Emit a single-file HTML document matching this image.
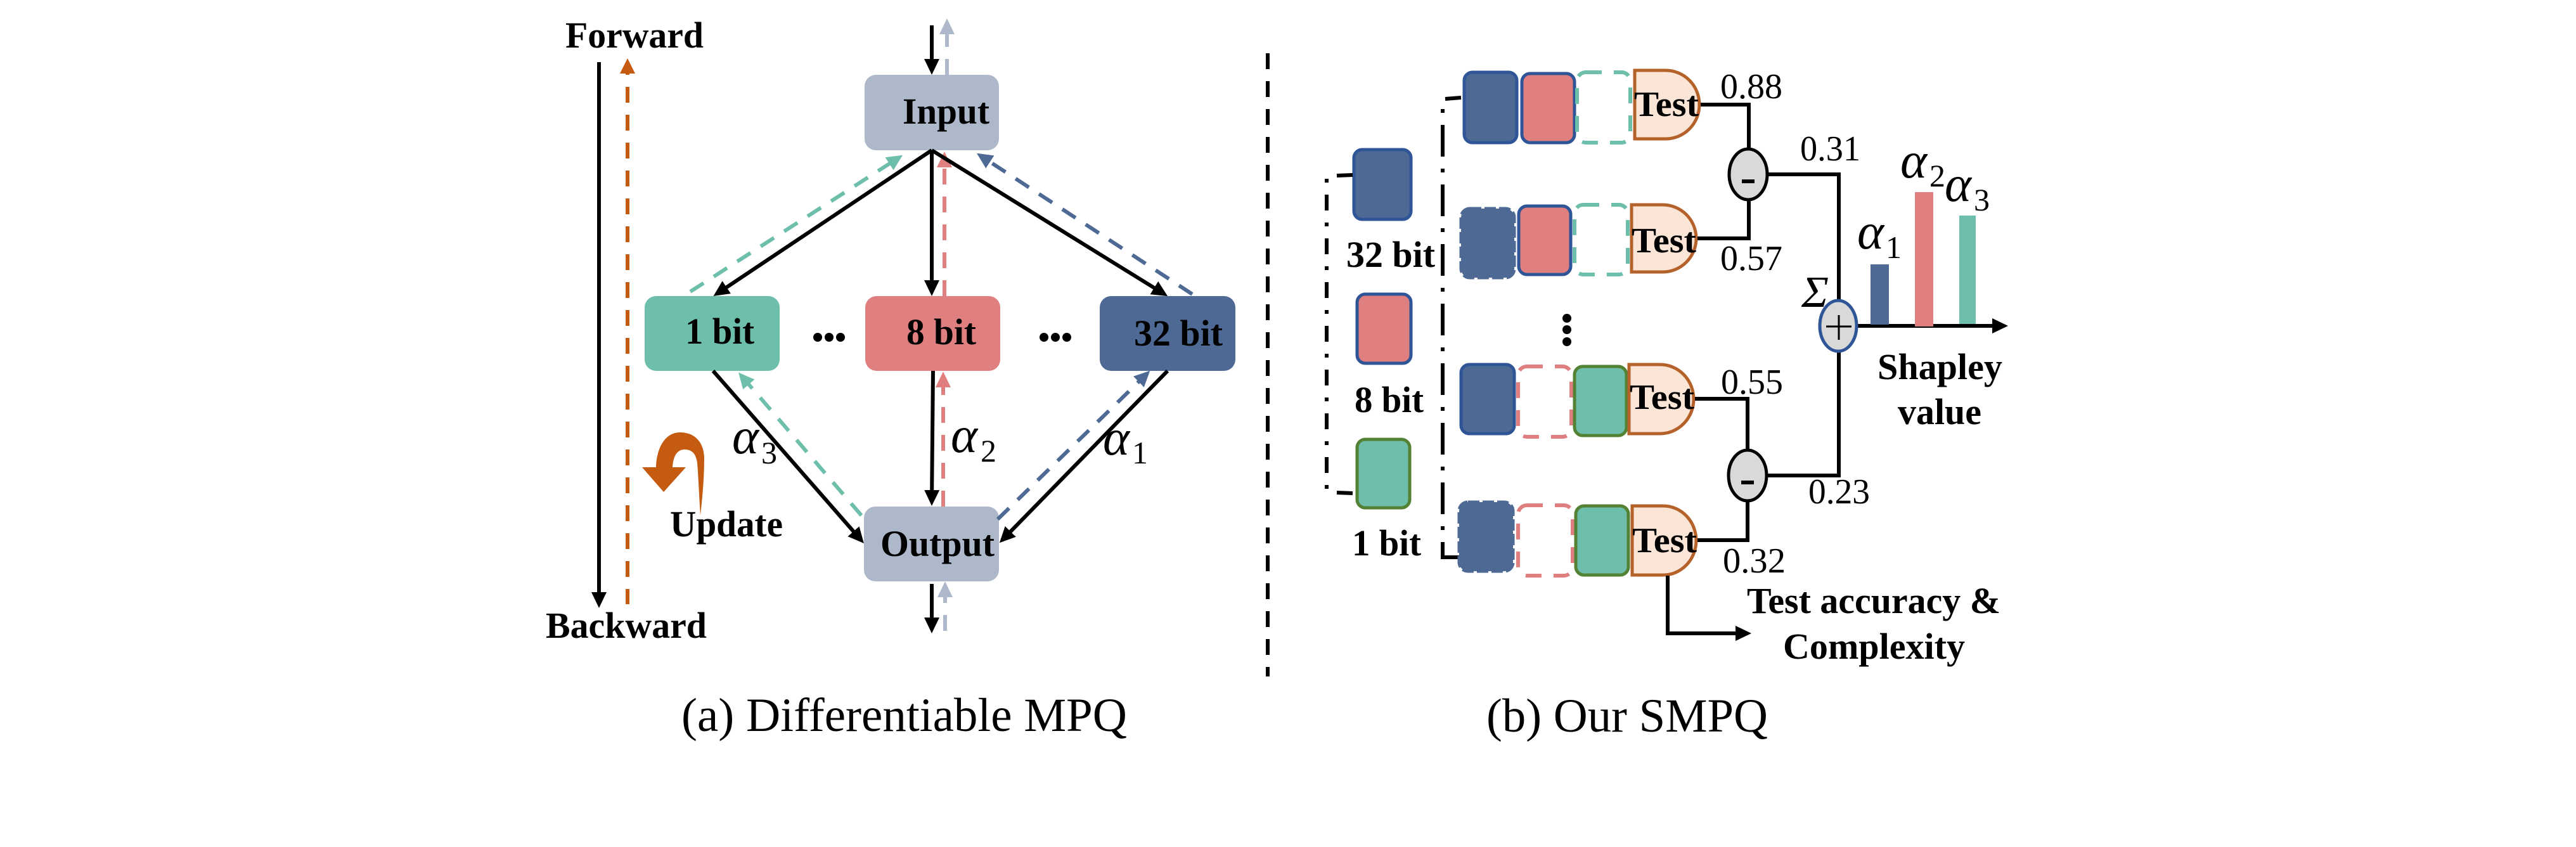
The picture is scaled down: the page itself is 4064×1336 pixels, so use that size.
<!DOCTYPE html>
<html>
<head>
<meta charset="utf-8">
<title>Differentiable MPQ and SMPQ</title>
<style>
html,body{margin:0;padding:0;background:#fff}
svg{display:block}
text{font-family:"Liberation Serif","DejaVu Serif",serif;fill:#000}
.b{font-weight:bold}
.n{font-size:56px}
.a{font-style:italic;font-size:80px}
.s{font-size:50px}
.l{font-size:58px;font-weight:bold}
.w{fill:none;stroke:#000;stroke-width:6}
</style>
</head>
<body>
<svg width="4064" height="1336" viewBox="0 0 4064 1336" xmlns="http://www.w3.org/2000/svg">
<defs>
<marker id="k" markerUnits="userSpaceOnUse" markerWidth="30" markerHeight="30" refX="19" refY="15" orient="auto"><path d="M0 3L25 15L0 27Z" fill="#000"/></marker>
<marker id="g" markerUnits="userSpaceOnUse" markerWidth="30" markerHeight="30" refX="19" refY="15" orient="auto"><path d="M0 3L25 15L0 27Z" fill="#6DBFAB"/></marker>
<marker id="r" markerUnits="userSpaceOnUse" markerWidth="30" markerHeight="30" refX="19" refY="15" orient="auto"><path d="M0 3L25 15L0 27Z" fill="#DF7F80"/></marker>
<marker id="u" markerUnits="userSpaceOnUse" markerWidth="30" markerHeight="30" refX="19" refY="15" orient="auto"><path d="M0 3L25 15L0 27Z" fill="#4E6A94"/></marker>
<marker id="y" markerUnits="userSpaceOnUse" markerWidth="30" markerHeight="30" refX="19" refY="15" orient="auto"><path d="M0 3L25 15L0 27Z" fill="#ADB9CA"/></marker>
</defs>

<!-- (a) boxes -->
<rect x="1364" y="118" width="212" height="119" rx="18" fill="#ADB9CA"/>
<rect x="1017" y="467" width="213" height="118" rx="18" fill="#6DBFAB"/>
<rect x="1365" y="467" width="213" height="118" rx="18" fill="#DF7F80"/>
<rect x="1735" y="467" width="214" height="118" rx="18" fill="#4E6A94"/>
<rect x="1363" y="799" width="213" height="118" rx="18" fill="#ADB9CA"/>

<!-- (a) legend lines -->
<line x1="945" y1="98" x2="945" y2="953" class="w" marker-end="url(#k)"/>
<line x1="990" y1="137" x2="990" y2="953" fill="none" stroke="#C55A11" stroke-width="6" stroke-dasharray="25 19"/>
<path d="M990 92L1002 116H993V118H987V116H978Z" fill="#C55A11"/>

<!-- (a) dashed back paths -->
<g fill="none" stroke-width="6" stroke-dasharray="25 19">
<line x1="1494" y1="118" x2="1494" y2="35" stroke="#ADB9CA" marker-end="url(#y)"/>
<line x1="1089" y1="460" x2="1419" y2="248" stroke="#6DBFAB" marker-end="url(#g)"/>
<line x1="1490" y1="467" x2="1490" y2="245" stroke="#DF7F80" marker-end="url(#r)"/>
<line x1="1881" y1="464" x2="1546" y2="245" stroke="#4E6A94" marker-end="url(#u)"/>
<line x1="1359" y1="813" x2="1169" y2="592" stroke="#6DBFAB" marker-end="url(#g)"/>
<line x1="1488" y1="799" x2="1488" y2="592" stroke="#DF7F80" marker-end="url(#r)"/>
<line x1="1574" y1="819" x2="1810" y2="589" stroke="#4E6A94" marker-end="url(#u)"/>
<line x1="1491" y1="995" x2="1491" y2="923" stroke="#ADB9CA" marker-end="url(#y)"/>
</g>

<!-- (a) solid arrows -->
<line x1="1470" y1="40" x2="1470" y2="112" class="w" marker-end="url(#k)"/>
<line x1="1470" y1="237" x2="1130.5" y2="463.7" class="w" marker-end="url(#k)"/>
<line x1="1470" y1="237" x2="1470" y2="461" class="w" marker-end="url(#k)"/>
<line x1="1470" y1="237" x2="1837" y2="464" class="w" marker-end="url(#k)"/>
<line x1="1125" y1="585" x2="1359" y2="852.5" class="w" marker-end="url(#k)"/>
<line x1="1472" y1="585" x2="1470" y2="792" class="w" marker-end="url(#k)"/>
<line x1="1842" y1="585" x2="1581" y2="852" class="w" marker-end="url(#k)"/>
<line x1="1470" y1="921" x2="1470" y2="993" class="w" marker-end="url(#k)"/>

<!-- Update arrow -->
<path d="M1013 737H1035C1036 705 1050 682 1073 682C1098 682 1111 700 1111 723C1111 755 1108 785 1105 813C1103 785 1102 755 1100 730C1098 716 1092 709 1080 709C1068 709 1062 720 1061 737H1082L1047 776Z" fill="#C55A11"/>

<!-- (a) text -->
<text x="892" y="75" class="l" textLength="218" lengthAdjust="spacingAndGlyphs">Forward</text>
<text x="861" y="1006" class="l" textLength="254" lengthAdjust="spacingAndGlyphs">Backward</text>
<text x="1424" y="195" class="l" textLength="137" lengthAdjust="spacingAndGlyphs">Input</text>
<text x="1081" y="542" class="l" textLength="109" lengthAdjust="spacingAndGlyphs">1 bit</text>
<text x="1430" y="543" class="l" textLength="110" lengthAdjust="spacingAndGlyphs">8 bit</text>
<text x="1789" y="545" class="l" textLength="140" lengthAdjust="spacingAndGlyphs">32 bit</text>
<text x="1389" y="877" class="l" textLength="180" lengthAdjust="spacingAndGlyphs">Output</text>
<text x="1057" y="846" class="l" textLength="178" lengthAdjust="spacingAndGlyphs">Update</text>
<g fill="#000">
<circle cx="1290" cy="532" r="7"/><circle cx="1308" cy="532" r="7"/><circle cx="1326" cy="532" r="7"/>
<circle cx="1647" cy="532" r="7"/><circle cx="1665" cy="532" r="7"/><circle cx="1683" cy="532" r="7"/>
</g>
<text x="1155" y="715" class="a" textLength="42" lengthAdjust="spacingAndGlyphs">α</text><text x="1201" y="731" class="s">3</text>
<text x="1500" y="713" class="a" textLength="42" lengthAdjust="spacingAndGlyphs">α</text><text x="1547" y="728" class="s">2</text>
<text x="1740" y="717" class="a" textLength="42" lengthAdjust="spacingAndGlyphs">α</text><text x="1786" y="731" class="s">1</text>
<text x="1075" y="1153" font-size="75" textLength="703" lengthAdjust="spacingAndGlyphs">(a) Differentiable MPQ</text>

<!-- divider -->
<line x1="2000" y1="84" x2="2000" y2="1067" fill="none" stroke="#000" stroke-width="6" stroke-dasharray="25 19"/>

<!-- (b) left stack -->
<rect x="2136" y="236" width="90" height="110" rx="13" fill="#4E6A94" stroke="#2F5597" stroke-width="5"/>
<rect x="2141" y="464" width="85" height="109" rx="13" fill="#DF7F80" stroke="#2F5597" stroke-width="5"/>
<rect x="2141" y="693" width="83" height="108" rx="13" fill="#6DBFAB" stroke="#548235" stroke-width="5"/>
<text x="2124" y="421" class="l" textLength="140" lengthAdjust="spacingAndGlyphs">32 bit</text>
<text x="2137" y="650" class="l" textLength="109" lengthAdjust="spacingAndGlyphs">8 bit</text>
<text x="2133" y="876" class="l" textLength="109" lengthAdjust="spacingAndGlyphs">1 bit</text>

<!-- brackets -->
<line x1="2093" y1="282" x2="2093" y2="771" fill="none" stroke="#000" stroke-width="6" stroke-dasharray="6 19 25 19"/>
<line x1="2109" y1="277" x2="2134" y2="276" class="w"/>
<line x1="2109" y1="777" x2="2134" y2="778" class="w"/>
<path d="M2276 172V879H2303" fill="none" stroke="#000" stroke-width="6" stroke-dasharray="6 19 50 19"/>
<path d="M2280 156L2305 154" class="w"/>

<!-- row 1 -->
<rect x="2310" y="114" width="83" height="111" rx="13" fill="#4E6A94" stroke="#2F5597" stroke-width="5"/>
<rect x="2401" y="116" width="83" height="109" rx="13" fill="#DF7F80" stroke="#2F5597" stroke-width="5"/>
<rect x="2488" y="114" width="84" height="111" rx="14" fill="#fff" stroke="#6DBFAB" stroke-width="6" stroke-dasharray="25 19"/>
<path d="M2579 111H2628A53 54 0 0 1 2628 219H2579Z" fill="#FBE5D6" stroke="#B5622A" stroke-width="5"/>
<text x="2578" y="183" class="n b" textLength="102" lengthAdjust="spacingAndGlyphs">Test</text>

<!-- row 2 -->
<rect x="2305" y="329" width="84" height="109" rx="14" fill="#4E6A94" stroke="#4E6A94" stroke-width="5" stroke-dasharray="18 5"/>
<rect x="2396" y="325" width="82" height="108" rx="13" fill="#DF7F80" stroke="#2F5597" stroke-width="5"/>
<rect x="2484" y="323" width="84" height="110" rx="14" fill="#fff" stroke="#6DBFAB" stroke-width="6" stroke-dasharray="25 19"/>
<path d="M2574 323H2623A53 53 0 0 1 2623 429H2574Z" fill="#FBE5D6" stroke="#B5622A" stroke-width="5"/>
<text x="2574" y="398" class="n b" textLength="102" lengthAdjust="spacingAndGlyphs">Test</text>

<!-- vertical dots -->
<circle cx="2472" cy="502" r="7" fill="#000"/><circle cx="2472" cy="520" r="7" fill="#000"/><circle cx="2472" cy="539" r="7" fill="#000"/>

<!-- row 3 -->
<rect x="2305" y="575" width="84" height="109" rx="13" fill="#4E6A94" stroke="#2F5597" stroke-width="5"/>
<rect x="2395" y="578" width="84" height="111" rx="14" fill="#fff" stroke="#DF7F80" stroke-width="6" stroke-dasharray="25 19"/>
<rect x="2484" y="578" width="82" height="109" rx="13" fill="#6DBFAB" stroke="#548235" stroke-width="5"/>
<path d="M2570 575H2619A53 54.5 0 0 1 2619 684H2570Z" fill="#FBE5D6" stroke="#B5622A" stroke-width="5"/>
<text x="2571" y="645" class="n b" textLength="102" lengthAdjust="spacingAndGlyphs">Test</text>

<!-- row 4 -->
<rect x="2302" y="792" width="85" height="109" rx="14" fill="#4E6A94" stroke="#4E6A94" stroke-width="5" stroke-dasharray="18 5"/>
<rect x="2395" y="797" width="86" height="111" rx="14" fill="#fff" stroke="#DF7F80" stroke-width="6" stroke-dasharray="25 19"/>
<rect x="2486" y="798" width="83" height="109" rx="13" fill="#6DBFAB" stroke="#548235" stroke-width="5"/>
<path d="M2575 798H2624A52 54.5 0 0 1 2624 907H2575Z" fill="#FBE5D6" stroke="#B5622A" stroke-width="5"/>
<text x="2575" y="871" class="n b" textLength="102" lengthAdjust="spacingAndGlyphs">Test</text>

<!-- wires -->
<path d="M2683 165H2759V235" class="w"/>
<path d="M2678 376H2759V315" class="w"/>
<path d="M2789 275H2901V474" class="w"/>
<path d="M2901 554V750H2789" class="w"/>
<path d="M2674 629H2757V710" class="w"/>
<path d="M2678 852H2757V792" class="w"/>
<path d="M2631 908V999H2757" class="w" marker-end="url(#k)"/>
<line x1="2931" y1="514" x2="3162" y2="514" class="w" marker-end="url(#k)"/>

<!-- bars -->
<rect x="2951" y="417" width="29" height="95" fill="#4E6A94"/>
<rect x="3021" y="303" width="29" height="212" fill="#DF7F80"/>
<rect x="3091" y="340" width="26" height="171" fill="#6DBFAB"/>

<!-- operators -->
<ellipse cx="2758" cy="275" rx="30" ry="40" fill="#D9D9D9" stroke="#000" stroke-width="5"/>
<rect x="2748" y="283" width="20" height="6" fill="#000"/>
<ellipse cx="2757" cy="750" rx="30" ry="40" fill="#D9D9D9" stroke="#000" stroke-width="5"/>
<rect x="2747" y="758" width="20" height="6" fill="#000"/>
<ellipse cx="2900" cy="514" rx="29" ry="40" fill="#D9D9D9" stroke="#2F5597" stroke-width="5"/>
<path d="M2881 515H2921M2901 497V536" fill="none" stroke="#000" stroke-width="3"/>

<!-- numbers -->
<text x="2714" y="155" class="n" textLength="98" lengthAdjust="spacingAndGlyphs">0.88</text>
<text x="2840" y="253" class="n" textLength="95" lengthAdjust="spacingAndGlyphs">0.31</text>
<text x="2714" y="426" class="n" textLength="98" lengthAdjust="spacingAndGlyphs">0.57</text>
<text x="2715" y="621" class="n" textLength="98" lengthAdjust="spacingAndGlyphs">0.55</text>
<text x="2853" y="794" class="n" textLength="97" lengthAdjust="spacingAndGlyphs">0.23</text>
<text x="2718" y="903" class="n" textLength="99" lengthAdjust="spacingAndGlyphs">0.32</text>

<!-- alpha -->
<text x="2930" y="392" class="a" textLength="42" lengthAdjust="spacingAndGlyphs">α</text><text x="2975" y="407" class="s">1</text>
<text x="2998" y="280" class="a" textLength="42" lengthAdjust="spacingAndGlyphs">α</text><text x="3044" y="294" class="s">2</text>
<text x="3068" y="317" class="a" textLength="42" lengthAdjust="spacingAndGlyphs">α</text><text x="3114" y="332" class="s">3</text>
<text x="2842" y="484" font-size="70" font-style="italic" textLength="43" lengthAdjust="spacingAndGlyphs">Σ</text>

<!-- labels -->
<text x="2962" y="598" class="l" textLength="197" lengthAdjust="spacingAndGlyphs">Shapley</text>
<text x="2994" y="669" class="l" textLength="132" lengthAdjust="spacingAndGlyphs">value</text>
<text x="2756" y="967" class="l" textLength="400" lengthAdjust="spacingAndGlyphs">Test accuracy &amp;</text>
<text x="2813" y="1039" class="l" textLength="287" lengthAdjust="spacingAndGlyphs">Complexity</text>
<text x="2345" y="1154" font-size="75" textLength="444" lengthAdjust="spacingAndGlyphs">(b) Our SMPQ</text>
</svg>
</body>
</html>
